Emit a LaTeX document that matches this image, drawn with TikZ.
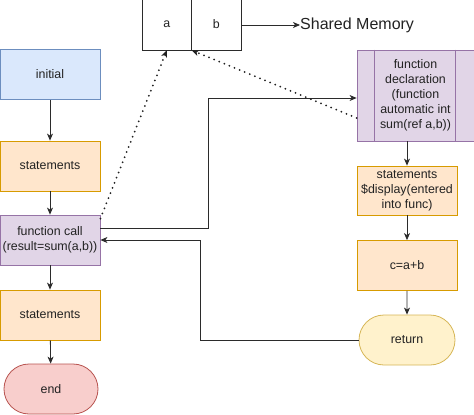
\documentclass[tikz,border=0pt]{standalone}
\usepackage{fontspec}
\setmainfont{Liberation Sans}
\usetikzlibrary{arrows.meta,shapes.misc}
\definecolor{txt}{HTML}{222222}
\definecolor{edge}{HTML}{2b2b2b}
\definecolor{bluefill}{HTML}{DAE8FC}\definecolor{bluedraw}{HTML}{6C8EBF}
\definecolor{orfill}{HTML}{FFE6CC}\definecolor{ordraw}{HTML}{D79B00}
\definecolor{pufill}{HTML}{E1D5E7}\definecolor{pudraw}{HTML}{9673A6}
\definecolor{redfill}{HTML}{F8CECC}\definecolor{reddraw}{HTML}{B85450}
\definecolor{yefill}{HTML}{FFF2CC}\definecolor{yedraw}{HTML}{D6B656}
\tikzset{
  box/.style={rectangle, minimum width=100pt, minimum height=50pt, inner sep=2pt, align=center, text=txt, font=\fontsize{12.4}{15}\selectfont, line width=0.8pt},
  bluebox/.style={box, fill=bluefill, draw=bluedraw},
  orbox/.style={box, fill=orfill, draw=ordraw},
  pubox/.style={box, fill=pufill, draw=pudraw},
  endbox/.style={box, rounded rectangle, fill=redfill, draw=reddraw},
  retbox/.style={box, rounded rectangle, fill=yefill, draw=yedraw},
  cell/.style={rectangle, draw=edge, fill=white, minimum width=49.5pt, minimum height=52pt, text=txt, font=\fontsize{12.4}{15}\selectfont, line width=0.8pt},
  arr/.style={draw=edge, line width=0.8pt, -{Stealth[length=7pt,width=6pt,inset=2pt]}},
  dotarr/.style={draw=txt, line width=2pt, line cap=round, dash pattern=on 0pt off 5.5pt, -{Stealth[length=7pt,width=6pt,inset=2pt,line width=0.8pt]}},
}
\begin{document}
\begin{tikzpicture}[x=1pt,y=-1pt]
\useasboundingbox (0,0) rectangle (474,415);
% left column
\node[bluebox] (initial) at (50,74.5) {initial};
\node[orbox] (st1) at (50,166) {statements};
\node[pubox] (call) at (50,240) {function call\\(result=sum(a,b))};
\node[orbox] (st2) at (50,315) {statements};
\node[endbox, minimum width=98pt] (end) at (51,389) {end};
% shared memory
\node[cell] (cella) at (166.75,24) {a};
\node[cell] (cellb) at (216.25,24) {b};
\node[anchor=west, text=txt, font=\fontsize{16}{19}\selectfont, inner sep=0pt] (shared) at (300,25) {Shared Memory};
% right column
\node[pubox, minimum width=117pt, minimum height=91pt] (decl) at (415.5,95.5) {function\\declaration\\(function\\automatic int\\sum(ref a,b))};
\draw[pudraw, line width=0.8pt] ([xshift=18pt]decl.north west) -- ([xshift=18pt]decl.south west);
\draw[pudraw, line width=0.8pt] ([xshift=-19pt]decl.north east) -- ([xshift=-19pt]decl.south east);
\node[orbox, minimum height=49pt] (st3) at (407,190.5) {statements\\\$display(entered\\into func)};
\node[orbox] (calc) at (407,265.5) {c=a+b};
\node[retbox] (ret) at (407,340) {return};
% connectors
\draw[arr] (initial) -- (st1);
\draw[arr] (st1) -- (call);
\draw[arr] (call) -- (st2);
\draw[arr] (st2) -- (end);
\draw[arr] (decl.south -| st3.north) -- (st3);
\draw[arr] (st3) -- (calc);
\draw[arr] (calc) -- (ret);
\draw[arr] (cellb.east |- shared.west) -- (shared.west);
\coordinate (j1) at (200,340);
\draw[arr] (ret.west) -- (j1) |- (call.east);
\coordinate (j2) at (208,98);
\draw[arr] ([yshift=12pt]call.east) -| (j2) -- (decl.west |- j2);
\draw[dotarr] ([yshift=-4pt]call.north east) -- (cella.south);
\draw[dotarr] ([yshift=-22.5pt]decl.west) -- (cella.south east);
\end{tikzpicture}
\end{document}
